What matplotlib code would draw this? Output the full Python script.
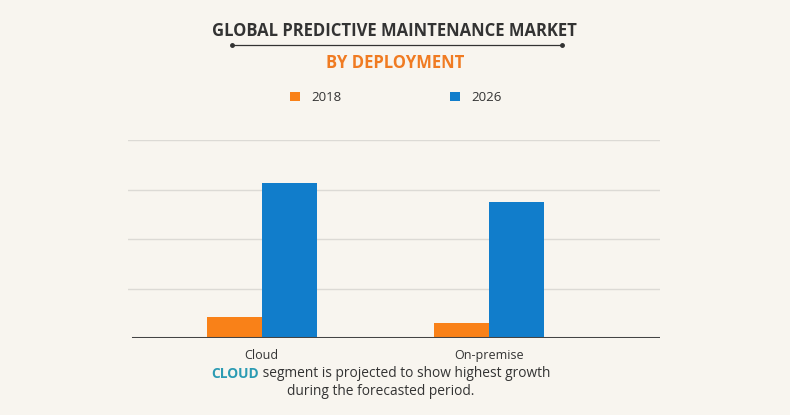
import matplotlib
matplotlib.use('Agg')
import matplotlib.pyplot as plt
import numpy as np

plt.rcParams['font.family'] = ['Open Sans', 'DejaVu Sans']

segments = ['Cloud', 'On-premise']
years = ['2018', '2026']
vals_2018 = [0.43, 0.31]
vals_2026 = [3.14, 2.75]

bg = '#f8f5ef'
orange = '#f98118'
blue = '#117dcb'

fig = plt.figure(figsize=(7.9, 4.15), dpi=100, facecolor=bg)
W, H = 790.0, 415.0
# axes: gridlines span 128..660 px, baseline at 338 px, top gridline at 140 px
ax = fig.add_axes([128 / W, 1 - 338.3 / H, (660 - 128) / W, (338.3 - 140) / H])
ax.set_facecolor(bg)

x = np.arange(len(segments))
bw = 0.242
ax.bar(x - bw / 2, vals_2018, bw, color=orange, label=years[0], zorder=3)
ax.bar(x + bw / 2, vals_2026, bw, color=blue, label=years[1], zorder=3)

# data x range so that group centres sit at 261.7 px and 489.3 px
px_per = 489.3 - 261.7
ax.set_xlim((128 - 261.7) / px_per, (660 - 261.7) / px_per)
ax.set_ylim(0, 4)
ax.set_yticks([1, 2, 3, 4])
ax.yaxis.grid(True, color='#dcdad5', linewidth=1.0, zorder=0)
ax.tick_params(axis='y', left=False, labelleft=False)
ax.tick_params(axis='x', bottom=False, labelsize=9, labelcolor='#333333', pad=4)
ax.set_xticks(x)
ax.set_xticklabels(segments)
for s in ax.spines.values():
    s.set_visible(False)
ax.axhline(0, xmin=(133 - 128) / (660 - 128), xmax=1, color='#444444', linewidth=2.2, zorder=4)

# titles
fig.text(394.5 / W, 1 - 31 / H, 'GLOBAL PREDICTIVE MAINTENANCE MARKET', ha='center', va='center',
         fontsize=12, fontweight='bold', color='#333333')
fig.add_artist(plt.Line2D([231.7 / W, 562 / W], [1 - 45 / H, 1 - 45 / H], color='#333333', linewidth=0.9))
fig.add_artist(plt.Line2D([231.7 / W, 562 / W], [1 - 45 / H, 1 - 45 / H], color='#333333', linestyle='none',
                          marker='o', markersize=2.5))
fig.text(395 / W, 1 - 63.5 / H, 'BY DEPLOYMENT', ha='center', va='center',
         fontsize=12, fontweight='bold', color='#f07b22')

# legend
handles, labels = ax.get_legend_handles_labels()
fig.legend(handles, labels, loc='center', bbox_to_anchor=(396 / W, 1 - 97.5 / H), ncol=2, frameon=False,
           fontsize=9.5, handlelength=0.75, handleheight=0.75, columnspacing=8.2, handletextpad=0.9,
           labelcolor='#333333')

# caption
cap_fs = 9.9
t1 = fig.text(211 / W, 1 - 373.5 / H, 'CLOUD', ha='left', va='center', fontsize=cap_fs,
              fontweight='bold', color='#2b9bb3')
fig.canvas.draw()
bb = t1.get_window_extent()
fig.text(bb.x1 / W, 1 - 373.5 / H, ' segment is projected to show highest growth', ha='left', va='center',
         fontsize=cap_fs, color='#333333')
fig.text(381 / W, 1 - 391 / H, 'during the forecasted period.', ha='center', va='center',
         fontsize=cap_fs, color='#333333')

fig.savefig('out.png', dpi=100, facecolor=bg)
